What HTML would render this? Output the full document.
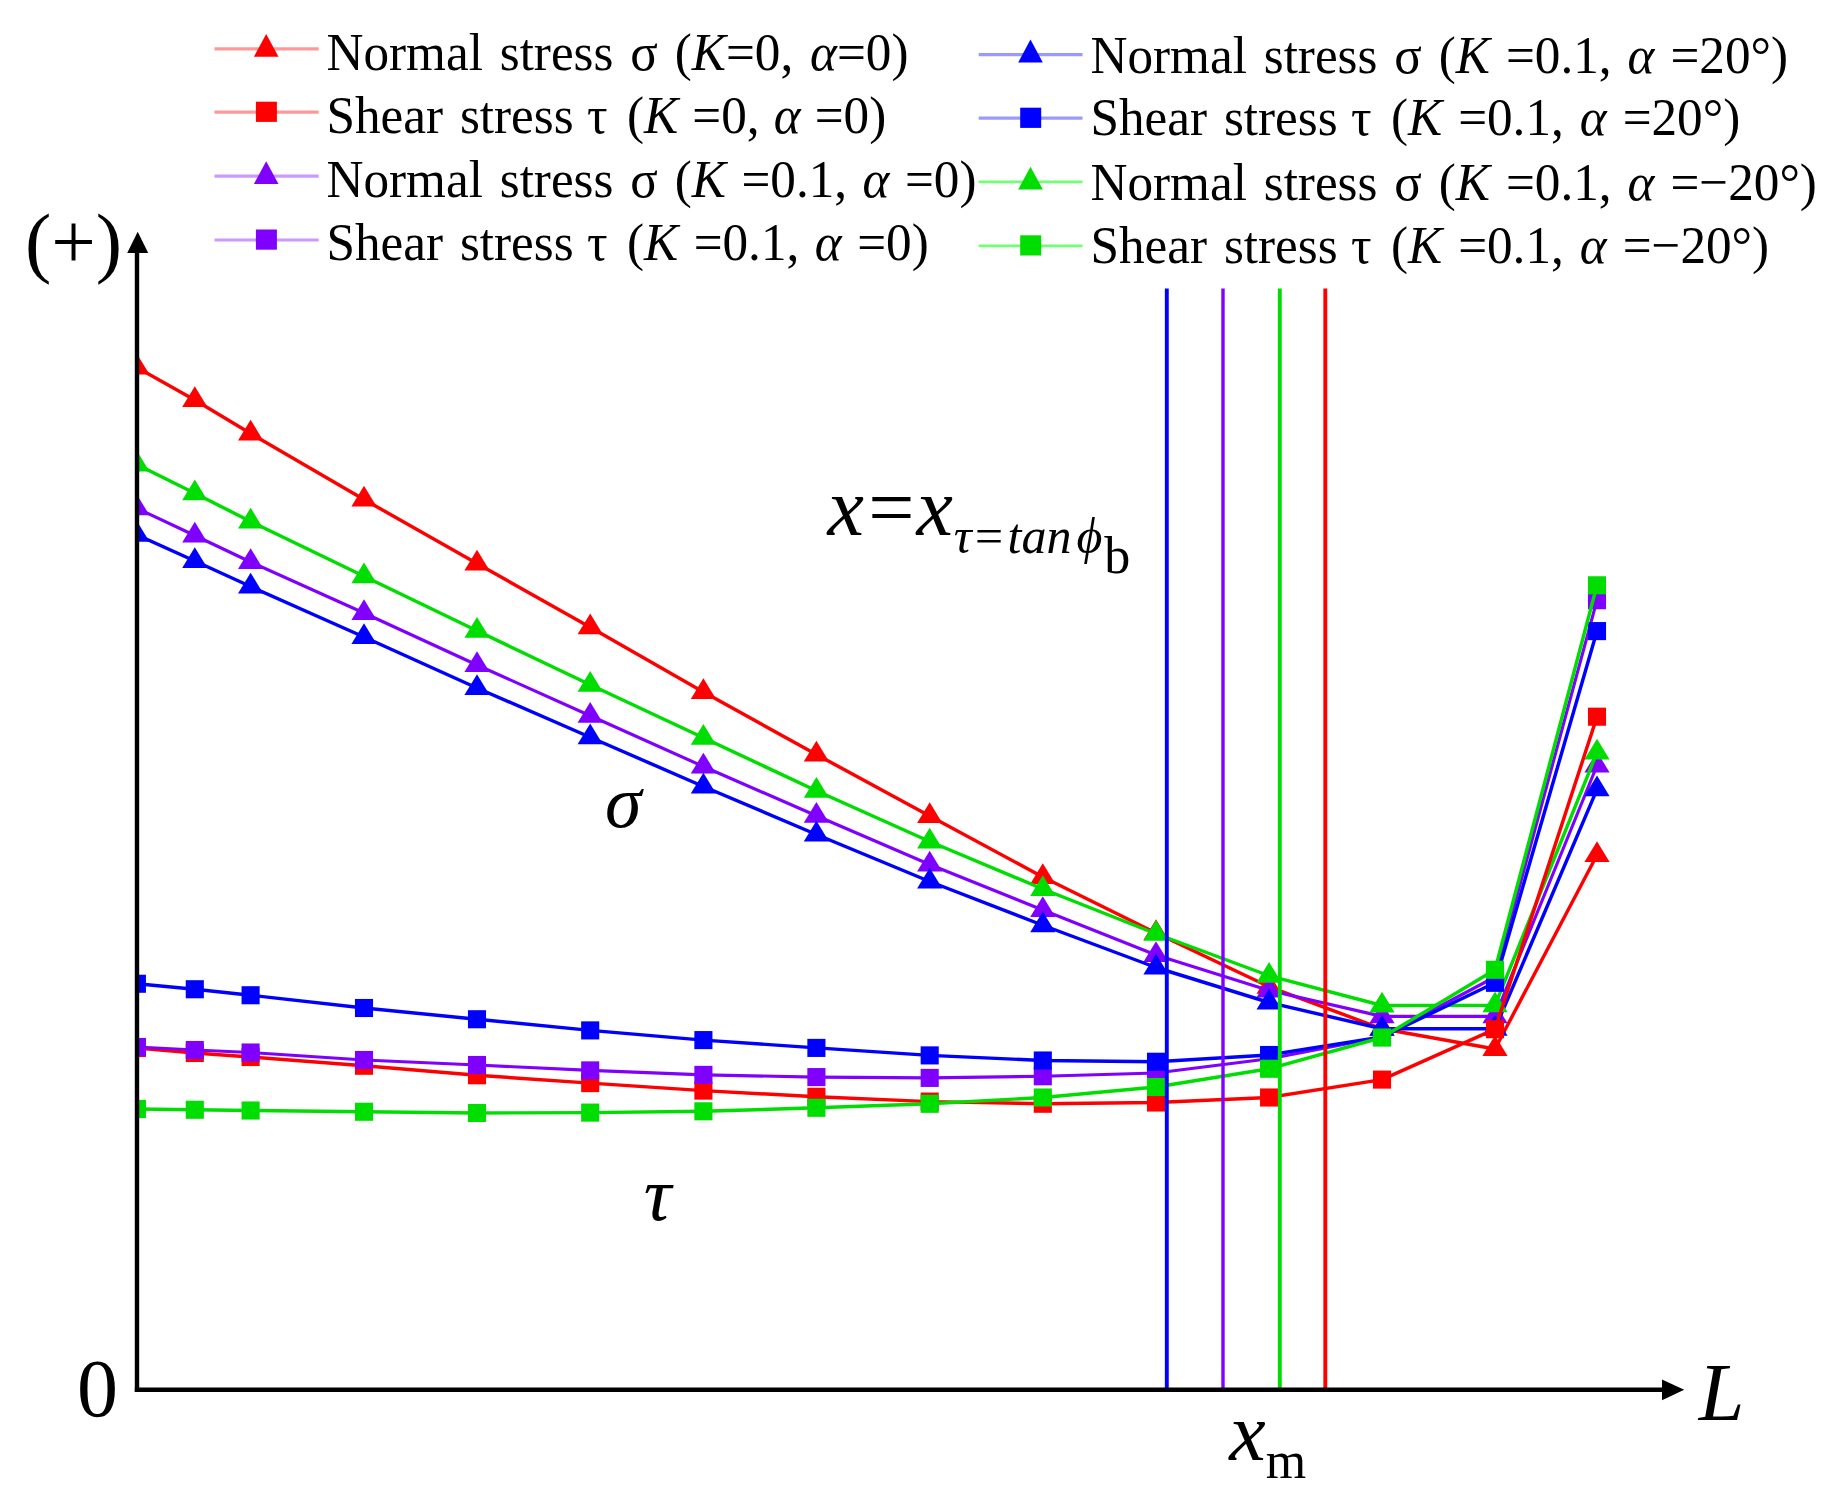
<!DOCTYPE html>
<html lang="en"><head><meta charset="utf-8"><title>Stress distribution</title>
<style>
html,body{margin:0;padding:0;background:#fff;}
body{width:1842px;height:1507px;overflow:hidden;}
svg{display:block;}
text{font-family:"Liberation Serif","Times New Roman",serif;fill:#000;}
.lg{font-size:53px;white-space:pre;}
.big{font-size:82px;}
.it{font-style:italic;}
</style></head><body>
<svg width="1842" height="1507" viewBox="0 0 1842 1507">
<rect width="1842" height="1507" fill="#fff"/>
<defs><clipPath id="plot"><rect x="136.9" y="280" width="1600" height="1112"/></clipPath></defs>

<g clip-path="url(#plot)">
<polyline points="136.90,367.50 194.80,400.00 250.60,433.50 364.00,499.50 477.00,563.50 590.20,627.25 703.40,692.00 816.40,754.50 929.70,816.00 1042.80,877.00 1156.00,933.00 1269.10,986.80 1382.00,1028.80 1495.00,1049.00 1597.00,855.00" fill="none" stroke="#ff0000" stroke-width="3.45" stroke-linejoin="round"/>
<polygon points="136.90,353.72 124.30,374.39 149.50,374.39" fill="#ff0000"/>
<polygon points="194.80,386.22 182.20,406.89 207.40,406.89" fill="#ff0000"/>
<polygon points="250.60,419.72 238.00,440.39 263.20,440.39" fill="#ff0000"/>
<polygon points="364.00,485.72 351.40,506.39 376.60,506.39" fill="#ff0000"/>
<polygon points="477.00,549.72 464.40,570.39 489.60,570.39" fill="#ff0000"/>
<polygon points="590.20,613.47 577.60,634.14 602.80,634.14" fill="#ff0000"/>
<polygon points="703.40,678.22 690.80,698.89 716.00,698.89" fill="#ff0000"/>
<polygon points="816.40,740.72 803.80,761.39 829.00,761.39" fill="#ff0000"/>
<polygon points="929.70,802.22 917.10,822.89 942.30,822.89" fill="#ff0000"/>
<polygon points="1042.80,863.22 1030.20,883.89 1055.40,883.89" fill="#ff0000"/>
<polygon points="1156.00,919.22 1143.40,939.89 1168.60,939.89" fill="#ff0000"/>
<polygon points="1269.10,973.02 1256.50,993.69 1281.70,993.69" fill="#ff0000"/>
<polygon points="1382.00,1015.02 1369.40,1035.69 1394.60,1035.69" fill="#ff0000"/>
<polygon points="1495.00,1035.22 1482.40,1055.89 1507.60,1055.89" fill="#ff0000"/>
<polygon points="1597.00,841.22 1584.40,861.89 1609.60,861.89" fill="#ff0000"/>
<polyline points="136.90,508.30 194.80,535.50 250.60,562.00 364.00,613.00 477.00,665.00 590.20,715.75 703.40,766.50 816.40,815.75 929.70,864.50 1042.80,910.00 1156.00,955.00 1269.10,990.50 1382.00,1016.40 1495.00,1016.40 1597.00,765.50" fill="none" stroke="#7f00ff" stroke-width="3.1500000000000004" stroke-linejoin="round"/>
<polygon points="136.90,494.52 124.30,515.19 149.50,515.19" fill="#7f00ff"/>
<polygon points="194.80,521.72 182.20,542.39 207.40,542.39" fill="#7f00ff"/>
<polygon points="250.60,548.22 238.00,568.89 263.20,568.89" fill="#7f00ff"/>
<polygon points="364.00,599.22 351.40,619.89 376.60,619.89" fill="#7f00ff"/>
<polygon points="477.00,651.22 464.40,671.89 489.60,671.89" fill="#7f00ff"/>
<polygon points="590.20,701.97 577.60,722.64 602.80,722.64" fill="#7f00ff"/>
<polygon points="703.40,752.72 690.80,773.39 716.00,773.39" fill="#7f00ff"/>
<polygon points="816.40,801.97 803.80,822.64 829.00,822.64" fill="#7f00ff"/>
<polygon points="929.70,850.72 917.10,871.39 942.30,871.39" fill="#7f00ff"/>
<polygon points="1042.80,896.22 1030.20,916.89 1055.40,916.89" fill="#7f00ff"/>
<polygon points="1156.00,941.22 1143.40,961.89 1168.60,961.89" fill="#7f00ff"/>
<polygon points="1269.10,976.72 1256.50,997.39 1281.70,997.39" fill="#7f00ff"/>
<polygon points="1382.00,1002.62 1369.40,1023.29 1394.60,1023.29" fill="#7f00ff"/>
<polygon points="1495.00,1002.62 1482.40,1023.29 1507.60,1023.29" fill="#7f00ff"/>
<polygon points="1597.00,751.72 1584.40,772.39 1609.60,772.39" fill="#7f00ff"/>
<polyline points="136.90,534.80 194.80,561.00 250.60,586.50 364.00,637.00 477.00,688.00 590.20,737.25 703.40,786.50 816.40,834.50 929.70,881.50 1042.80,925.25 1156.00,967.50 1269.10,1002.50 1382.00,1028.80 1495.00,1028.80 1597.00,789.40" fill="none" stroke="#0000ff" stroke-width="3.45" stroke-linejoin="round"/>
<polygon points="136.90,521.02 124.30,541.69 149.50,541.69" fill="#0000ff"/>
<polygon points="194.80,547.22 182.20,567.89 207.40,567.89" fill="#0000ff"/>
<polygon points="250.60,572.72 238.00,593.39 263.20,593.39" fill="#0000ff"/>
<polygon points="364.00,623.22 351.40,643.89 376.60,643.89" fill="#0000ff"/>
<polygon points="477.00,674.22 464.40,694.89 489.60,694.89" fill="#0000ff"/>
<polygon points="590.20,723.47 577.60,744.14 602.80,744.14" fill="#0000ff"/>
<polygon points="703.40,772.72 690.80,793.39 716.00,793.39" fill="#0000ff"/>
<polygon points="816.40,820.72 803.80,841.39 829.00,841.39" fill="#0000ff"/>
<polygon points="929.70,867.72 917.10,888.39 942.30,888.39" fill="#0000ff"/>
<polygon points="1042.80,911.47 1030.20,932.14 1055.40,932.14" fill="#0000ff"/>
<polygon points="1156.00,953.72 1143.40,974.39 1168.60,974.39" fill="#0000ff"/>
<polygon points="1269.10,988.72 1256.50,1009.39 1281.70,1009.39" fill="#0000ff"/>
<polygon points="1382.00,1015.02 1369.40,1035.69 1394.60,1035.69" fill="#0000ff"/>
<polygon points="1495.00,1015.02 1482.40,1035.69 1507.60,1035.69" fill="#0000ff"/>
<polygon points="1597.00,775.62 1584.40,796.29 1609.60,796.29" fill="#0000ff"/>
<polyline points="136.90,464.50 194.80,493.25 250.60,521.50 364.00,576.25 477.00,630.75 590.20,684.75 703.40,737.75 816.40,790.75 929.70,841.50 1042.80,889.00 1156.00,933.75 1269.10,975.75 1382.00,1005.50 1495.00,1005.30 1597.00,752.50" fill="none" stroke="#00dd00" stroke-width="3.45" stroke-linejoin="round"/>
<polygon points="136.90,450.72 124.30,471.39 149.50,471.39" fill="#00dd00"/>
<polygon points="194.80,479.47 182.20,500.14 207.40,500.14" fill="#00dd00"/>
<polygon points="250.60,507.72 238.00,528.39 263.20,528.39" fill="#00dd00"/>
<polygon points="364.00,562.47 351.40,583.14 376.60,583.14" fill="#00dd00"/>
<polygon points="477.00,616.97 464.40,637.64 489.60,637.64" fill="#00dd00"/>
<polygon points="590.20,670.97 577.60,691.64 602.80,691.64" fill="#00dd00"/>
<polygon points="703.40,723.97 690.80,744.64 716.00,744.64" fill="#00dd00"/>
<polygon points="816.40,776.97 803.80,797.64 829.00,797.64" fill="#00dd00"/>
<polygon points="929.70,827.72 917.10,848.39 942.30,848.39" fill="#00dd00"/>
<polygon points="1042.80,875.22 1030.20,895.89 1055.40,895.89" fill="#00dd00"/>
<polygon points="1156.00,919.97 1143.40,940.64 1168.60,940.64" fill="#00dd00"/>
<polygon points="1269.10,961.97 1256.50,982.64 1281.70,982.64" fill="#00dd00"/>
<polygon points="1382.00,991.72 1369.40,1012.39 1394.60,1012.39" fill="#00dd00"/>
<polygon points="1495.00,991.52 1482.40,1012.19 1507.60,1012.19" fill="#00dd00"/>
<polygon points="1597.00,738.72 1584.40,759.39 1609.60,759.39" fill="#00dd00"/>
<polyline points="136.90,1048.00 194.80,1053.00 250.60,1057.00 364.00,1065.75 477.00,1075.25 590.20,1083.10 703.40,1090.60 816.40,1096.80 929.70,1101.60 1042.80,1103.75 1156.00,1102.50 1269.10,1097.50 1382.00,1079.60 1495.00,1029.20 1597.00,716.70" fill="none" stroke="#ff0000" stroke-width="3.45" stroke-linejoin="round"/>
<rect x="127.85" y="1038.95" width="18.10" height="18.10" fill="#ff0000"/>
<rect x="185.75" y="1043.95" width="18.10" height="18.10" fill="#ff0000"/>
<rect x="241.55" y="1047.95" width="18.10" height="18.10" fill="#ff0000"/>
<rect x="354.95" y="1056.70" width="18.10" height="18.10" fill="#ff0000"/>
<rect x="467.95" y="1066.20" width="18.10" height="18.10" fill="#ff0000"/>
<rect x="581.15" y="1074.05" width="18.10" height="18.10" fill="#ff0000"/>
<rect x="694.35" y="1081.55" width="18.10" height="18.10" fill="#ff0000"/>
<rect x="807.35" y="1087.75" width="18.10" height="18.10" fill="#ff0000"/>
<rect x="920.65" y="1092.55" width="18.10" height="18.10" fill="#ff0000"/>
<rect x="1033.75" y="1094.70" width="18.10" height="18.10" fill="#ff0000"/>
<rect x="1146.95" y="1093.45" width="18.10" height="18.10" fill="#ff0000"/>
<rect x="1260.05" y="1088.45" width="18.10" height="18.10" fill="#ff0000"/>
<rect x="1372.95" y="1070.55" width="18.10" height="18.10" fill="#ff0000"/>
<rect x="1485.95" y="1020.15" width="18.10" height="18.10" fill="#ff0000"/>
<rect x="1587.95" y="707.65" width="18.10" height="18.10" fill="#ff0000"/>
<polyline points="136.90,1047.00 194.80,1050.00 250.60,1052.50 364.00,1060.00 477.00,1065.00 590.20,1070.40 703.40,1074.90 816.40,1077.10 929.70,1077.90 1042.80,1076.25 1156.00,1073.00 1269.10,1058.75 1382.00,1037.00 1495.00,977.00 1597.00,600.20" fill="none" stroke="#7f00ff" stroke-width="3.1500000000000004" stroke-linejoin="round"/>
<rect x="127.85" y="1037.95" width="18.10" height="18.10" fill="#7f00ff"/>
<rect x="185.75" y="1040.95" width="18.10" height="18.10" fill="#7f00ff"/>
<rect x="241.55" y="1043.45" width="18.10" height="18.10" fill="#7f00ff"/>
<rect x="354.95" y="1050.95" width="18.10" height="18.10" fill="#7f00ff"/>
<rect x="467.95" y="1055.95" width="18.10" height="18.10" fill="#7f00ff"/>
<rect x="581.15" y="1061.35" width="18.10" height="18.10" fill="#7f00ff"/>
<rect x="694.35" y="1065.85" width="18.10" height="18.10" fill="#7f00ff"/>
<rect x="807.35" y="1068.05" width="18.10" height="18.10" fill="#7f00ff"/>
<rect x="920.65" y="1068.85" width="18.10" height="18.10" fill="#7f00ff"/>
<rect x="1033.75" y="1067.20" width="18.10" height="18.10" fill="#7f00ff"/>
<rect x="1146.95" y="1063.95" width="18.10" height="18.10" fill="#7f00ff"/>
<rect x="1260.05" y="1049.70" width="18.10" height="18.10" fill="#7f00ff"/>
<rect x="1372.95" y="1027.95" width="18.10" height="18.10" fill="#7f00ff"/>
<rect x="1485.95" y="967.95" width="18.10" height="18.10" fill="#7f00ff"/>
<rect x="1587.95" y="591.15" width="18.10" height="18.10" fill="#7f00ff"/>
<polyline points="136.90,983.75 194.80,989.25 250.60,995.25 364.00,1008.00 477.00,1019.25 590.20,1030.40 703.40,1040.10 816.40,1047.90 929.70,1055.40 1042.80,1060.50 1156.00,1061.75 1269.10,1055.00 1382.00,1037.00 1495.00,982.80 1597.00,631.10" fill="none" stroke="#0000ff" stroke-width="3.45" stroke-linejoin="round"/>
<rect x="127.85" y="974.70" width="18.10" height="18.10" fill="#0000ff"/>
<rect x="185.75" y="980.20" width="18.10" height="18.10" fill="#0000ff"/>
<rect x="241.55" y="986.20" width="18.10" height="18.10" fill="#0000ff"/>
<rect x="354.95" y="998.95" width="18.10" height="18.10" fill="#0000ff"/>
<rect x="467.95" y="1010.20" width="18.10" height="18.10" fill="#0000ff"/>
<rect x="581.15" y="1021.35" width="18.10" height="18.10" fill="#0000ff"/>
<rect x="694.35" y="1031.05" width="18.10" height="18.10" fill="#0000ff"/>
<rect x="807.35" y="1038.85" width="18.10" height="18.10" fill="#0000ff"/>
<rect x="920.65" y="1046.35" width="18.10" height="18.10" fill="#0000ff"/>
<rect x="1033.75" y="1051.45" width="18.10" height="18.10" fill="#0000ff"/>
<rect x="1146.95" y="1052.70" width="18.10" height="18.10" fill="#0000ff"/>
<rect x="1260.05" y="1045.95" width="18.10" height="18.10" fill="#0000ff"/>
<rect x="1372.95" y="1027.95" width="18.10" height="18.10" fill="#0000ff"/>
<rect x="1485.95" y="973.75" width="18.10" height="18.10" fill="#0000ff"/>
<rect x="1587.95" y="622.05" width="18.10" height="18.10" fill="#0000ff"/>
<polyline points="136.90,1109.00 194.80,1109.75 250.60,1110.50 364.00,1111.75 477.00,1113.00 590.20,1112.60 703.40,1111.30 816.40,1107.80 929.70,1103.80 1042.80,1097.50 1156.00,1087.00 1269.10,1068.75 1382.00,1037.50 1495.00,969.80 1597.00,585.30" fill="none" stroke="#00dd00" stroke-width="3.45" stroke-linejoin="round"/>
<rect x="127.85" y="1099.95" width="18.10" height="18.10" fill="#00dd00"/>
<rect x="185.75" y="1100.70" width="18.10" height="18.10" fill="#00dd00"/>
<rect x="241.55" y="1101.45" width="18.10" height="18.10" fill="#00dd00"/>
<rect x="354.95" y="1102.70" width="18.10" height="18.10" fill="#00dd00"/>
<rect x="467.95" y="1103.95" width="18.10" height="18.10" fill="#00dd00"/>
<rect x="581.15" y="1103.55" width="18.10" height="18.10" fill="#00dd00"/>
<rect x="694.35" y="1102.25" width="18.10" height="18.10" fill="#00dd00"/>
<rect x="807.35" y="1098.75" width="18.10" height="18.10" fill="#00dd00"/>
<rect x="920.65" y="1094.75" width="18.10" height="18.10" fill="#00dd00"/>
<rect x="1033.75" y="1088.45" width="18.10" height="18.10" fill="#00dd00"/>
<rect x="1146.95" y="1077.95" width="18.10" height="18.10" fill="#00dd00"/>
<rect x="1260.05" y="1059.70" width="18.10" height="18.10" fill="#00dd00"/>
<rect x="1372.95" y="1028.45" width="18.10" height="18.10" fill="#00dd00"/>
<rect x="1485.95" y="960.75" width="18.10" height="18.10" fill="#00dd00"/>
<rect x="1587.95" y="576.25" width="18.10" height="18.10" fill="#00dd00"/>
</g>
<line x1="1166.8" y1="288.5" x2="1166.8" y2="1389" stroke="#0000ff" stroke-width="3.9"/>
<line x1="1223.0" y1="288.5" x2="1223.0" y2="1389" stroke="#7f00ff" stroke-width="3.4"/>
<line x1="1279.8" y1="288.5" x2="1279.8" y2="1389" stroke="#00dd00" stroke-width="3.9"/>
<line x1="1325.3" y1="288.5" x2="1325.3" y2="1389" stroke="#ff0000" stroke-width="3.9"/>
<line x1="137.0" y1="250" x2="137.0" y2="1391.8" stroke="#000" stroke-width="4.4"/>
<line x1="134.8" y1="1389.7" x2="1665" y2="1389.7" stroke="#000" stroke-width="4.4"/>
<polygon points="137.7,231.8 127.2,253 148.2,253" fill="#000"/>
<polygon points="1684.2,1389.8 1662,1379.4 1662,1400.2" fill="#000"/>
<line x1="214.5" y1="48.9" x2="318.7" y2="48.9" stroke="#ff0000" stroke-opacity="0.4" stroke-width="3.2"/>
<polygon points="266.20,33.90 253.90,56.70 278.50,56.70" fill="#ff0000"/>
<text class="lg" transform="translate(326.5,70.0) scale(0.966,1)" xml:space="preserve"><tspan word-spacing="4.2">Normal stress </tspan><tspan dx="0">σ</tspan><tspan dx="0" word-spacing="4.2"> (</tspan><tspan class="it">K</tspan><tspan word-spacing="4.2">=0, </tspan><tspan class="it">α</tspan><tspan word-spacing="4.2">=0)</tspan></text>
<line x1="214.5" y1="112.2" x2="318.7" y2="112.2" stroke="#ff0000" stroke-opacity="0.4" stroke-width="3.2"/>
<rect x="255.90" y="101.70" width="21" height="20.2" fill="#ff0000"/>
<text class="lg" transform="translate(326.5,132.9) scale(0.966,1)" xml:space="preserve"><tspan word-spacing="4.2">Shear stress </tspan><tspan dx="-3.5">τ</tspan><tspan dx="2.5" word-spacing="4.2"> (</tspan><tspan class="it">K</tspan><tspan word-spacing="1.4"> =0, </tspan><tspan class="it">α</tspan><tspan word-spacing="1.4"> =0)</tspan></text>
<line x1="214.5" y1="176.2" x2="318.7" y2="176.2" stroke="#7f00ff" stroke-opacity="0.4" stroke-width="3.2"/>
<polygon points="266.20,161.20 253.90,184.00 278.50,184.00" fill="#7f00ff"/>
<text class="lg" transform="translate(326.5,197.0) scale(0.966,1)" xml:space="preserve"><tspan word-spacing="4.2">Normal stress </tspan><tspan dx="0">σ</tspan><tspan dx="0" word-spacing="4.2"> (</tspan><tspan class="it">K</tspan><tspan word-spacing="2.8"> =0.1, </tspan><tspan class="it">α</tspan><tspan word-spacing="2.8"> =0)</tspan></text>
<line x1="214.5" y1="240.0" x2="318.7" y2="240.0" stroke="#7f00ff" stroke-opacity="0.4" stroke-width="3.2"/>
<rect x="255.90" y="229.50" width="21" height="20.2" fill="#7f00ff"/>
<text class="lg" transform="translate(326.5,260.2) scale(0.966,1)" xml:space="preserve"><tspan word-spacing="4.2">Shear stress </tspan><tspan dx="-3.5">τ</tspan><tspan dx="2.5" word-spacing="4.2"> (</tspan><tspan class="it">K</tspan><tspan word-spacing="2.8"> =0.1, </tspan><tspan class="it">α</tspan><tspan word-spacing="2.8"> =0)</tspan></text>
<line x1="978.7" y1="54.6" x2="1082.5" y2="54.6" stroke="#0000ff" stroke-opacity="0.4" stroke-width="3.2"/>
<polygon points="1030.50,39.60 1018.20,62.40 1042.80,62.40" fill="#0000ff"/>
<text class="lg" transform="translate(1090.5,72.8) scale(0.966,1)" xml:space="preserve"><tspan word-spacing="4.2">Normal stress </tspan><tspan dx="0">σ</tspan><tspan dx="0" word-spacing="4.2"> (</tspan><tspan class="it">K</tspan><tspan word-spacing="3.3"> =0.1, </tspan><tspan class="it">α</tspan><tspan word-spacing="3.3"> =20°)</tspan></text>
<line x1="978.7" y1="118.2" x2="1082.5" y2="118.2" stroke="#0000ff" stroke-opacity="0.4" stroke-width="3.2"/>
<rect x="1020.20" y="107.70" width="21" height="20.2" fill="#0000ff"/>
<text class="lg" transform="translate(1090.5,135.3) scale(0.966,1)" xml:space="preserve"><tspan word-spacing="4.2">Shear stress </tspan><tspan dx="-3.5">τ</tspan><tspan dx="2.5" word-spacing="4.2"> (</tspan><tspan class="it">K</tspan><tspan word-spacing="3.3"> =0.1, </tspan><tspan class="it">α</tspan><tspan word-spacing="3.3"> =20°)</tspan></text>
<line x1="978.7" y1="181.8" x2="1082.5" y2="181.8" stroke="#00ff00" stroke-opacity="0.55" stroke-width="2.8"/>
<polygon points="1030.50,166.80 1018.20,189.60 1042.80,189.60" fill="#00dd00"/>
<text class="lg" transform="translate(1090.5,199.5) scale(0.966,1)" xml:space="preserve"><tspan word-spacing="4.2">Normal stress </tspan><tspan dx="0">σ</tspan><tspan dx="0" word-spacing="4.2"> (</tspan><tspan class="it">K</tspan><tspan word-spacing="3.3"> =0.1, </tspan><tspan class="it">α</tspan><tspan word-spacing="3.3"> =−20°)</tspan></text>
<line x1="978.7" y1="245.8" x2="1082.5" y2="245.8" stroke="#00ff00" stroke-opacity="0.55" stroke-width="2.8"/>
<rect x="1020.20" y="235.30" width="21" height="20.2" fill="#00dd00"/>
<text class="lg" transform="translate(1090.5,262.7) scale(0.966,1)" xml:space="preserve"><tspan word-spacing="4.2">Shear stress </tspan><tspan dx="-3.5">τ</tspan><tspan dx="2.5" word-spacing="4.2"> (</tspan><tspan class="it">K</tspan><tspan word-spacing="3.3"> =0.1, </tspan><tspan class="it">α</tspan><tspan word-spacing="3.3"> =−20°)</tspan></text>
<text class="big" style="font-size:79px" x="25" y="267.5">(+)</text>
<text class="big" x="77" y="1416">0</text>
<text class="big it" x="1698.7" y="1420.3">L</text>
<text class="big it" style="font-size:74px" x="605" y="827.3">σ</text>
<text class="big it" style="font-size:77px" x="643.8" y="1220">τ</text>
<text class="big" x="1229.3" y="1460.4"><tspan class="it">x</tspan><tspan font-size="52" dy="18">m</tspan></text>
<text class="big" x="827.5" y="534.8"><tspan class="it">x</tspan><tspan dx="4.3">=</tspan><tspan class="it" dx="2">x</tspan><tspan class="it" font-size="50" dy="18.5" dx="1">τ=</tspan><tspan class="it" font-size="50" dx="2">tan</tspan><tspan class="it" font-size="50" dx="5">ϕ</tspan><tspan font-size="52" dy="19.6" dx="2">b</tspan></text>
</svg></body></html>
